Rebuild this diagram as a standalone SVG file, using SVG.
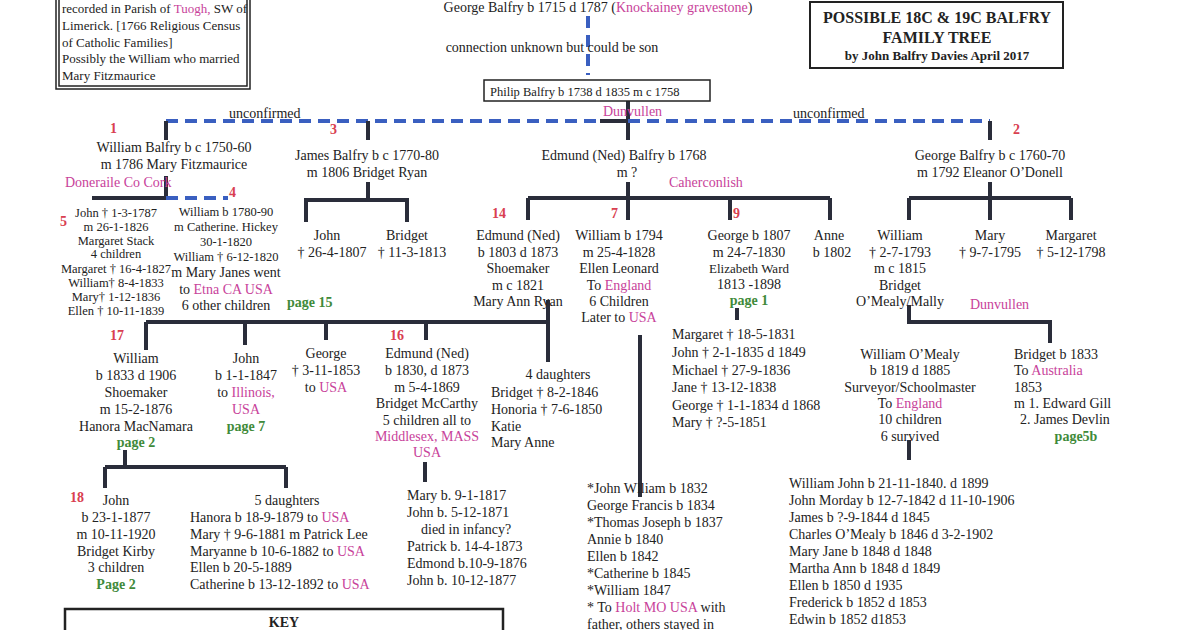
<svg xmlns="http://www.w3.org/2000/svg" width="1200" height="630" viewBox="0 0 1200 630">
<style>
text{font-family:"Liberation Serif","Times New Roman",serif;font-size:14px;fill:#222}
.c{text-anchor:middle}
.s{font-size:12.5px}
.p{fill:#c8429a}
.g{fill:#3f8a3a;font-weight:bold}
.r{fill:#d94050;font-weight:bold;font-size:14px}
.b{fill:none;stroke:#2a2d3a;stroke-width:4}
.d{fill:none;stroke:#3a5fc0;stroke-width:4;stroke-dasharray:12,7}
.bx{fill:none;stroke:#222;stroke-width:1.5}
</style>
<rect width="1200" height="630" fill="#fff"/>
<g id="censusnote">
<rect class="bx" x="56" y="-10" width="194" height="99"/><rect class="bx" x="59" y="-10" width="188" height="96"/>
<text x="62" y="13" style="font-size:13px">recorded in Parish of <tspan class="p">Tuogh,</tspan> SW of</text>
<text x="62" y="30" style="font-size:13px">Limerick. [1766 Religious Census</text>
<text x="62" y="47" style="font-size:13px">of Catholic Families]</text>
<text x="62" y="63" style="font-size:13px">Possibly the William who married</text>
<text x="62" y="80" style="font-size:13px">Mary Fitzmaurice</text>
</g>
<g id="title">
<rect x="810" y="2" width="253" height="66" fill="none" stroke="#222" stroke-width="2"/>
<text class="c" x="937" y="23" style="font-weight:bold;font-size:16px">POSSIBLE 18C &amp; 19C BALFRY</text>
<text class="c" x="937" y="43" style="font-weight:bold;font-size:16px">FAMILY TREE</text>
<text class="c" x="937" y="60" style="font-weight:bold;font-size:13px">by John Balfry Davies April 2017</text>
</g>
<g id="connectors">
<path class="d" d="M588 16V75"/>
<path class="b" d="M628 101V140M600 121H628"/>
<path class="d" d="M166 121H600M628 121H990"/>
<path class="b" d="M166 121V140M368 121V140M990 121V140"/>
<path class="b" d="M166 176V198H92"/>
<path class="d" d="M166 198H228"/>
<path class="b" d="M368 182V200H306V222M368 200H407V222"/>
<path class="b" d="M628 182V220M528 198H830M528 198V220M730 198V220M830 198V220"/>
<path class="b" d="M990 182V220M909 198H1071M909 198V220M1071 198V220"/>
<path class="b" d="M909 305V322H1050V343M909 440V460"/>
<path class="b" d="M737 308V320M640 335V497"/>
<path class="b" d="M548 300V362M146 322H548M146 322V350M245 322V345M326 322V340M426 322V340"/>
<path class="b" d="M425 462V482"/>
<path class="b" d="M125 450V467M105 467H286M105 467V488M286 467V488"/>
</g>
<g id="n-george1715"><text class="c" x="598" y="12">George Balfry b 1715 d 1787 (<tspan class="p">Knockainey gravestone</tspan>)</text>
<text class="c" x="552" y="52">connection unknown but could be son</text></g>
<g id="n-philip"><rect class="bx" x="484" y="80" width="226" height="21"/>
<text x="490" y="96" style="font-size:12.5px">Philip Balfry b 1738 d 1835 m c 1758</text>
<text class="p" x="603" y="116">Dunvullen</text></g>
<text x="229" y="118">unconfirmed</text><text x="793" y="118">unconfirmed</text>
<g id="n-william1"><text class="r" x="110" y="133">1</text>
<text class="c" x="174" y="152">William Balfry b c 1750-60</text>
<text class="c" x="174" y="169">m 1786 Mary Fitzmaurice</text>
<text class="p" x="65" y="187">Doneraile Co Cork</text></g>
<g id="n-james"><text class="r" x="330" y="134">3</text>
<text class="c" x="367" y="160">James Balfry b c 1770-80</text>
<text class="c" x="367" y="177">m 1806 Bridget Ryan</text></g>
<g id="n-edmund1768"><text class="c" x="624" y="160">Edmund (Ned) Balfry b 1768</text>
<text class="c" x="627" y="177">m ?</text><text class="p" x="669" y="187">Caherconlish</text></g>
<g id="n-george2"><text class="r" x="1013" y="134">2</text>
<text class="c" x="990" y="160">George Balfry b c 1760-70</text>
<text class="c" x="990" y="177">m 1792 Eleanor O’Donell</text></g>
<g id="n-5"><text class="r" x="60" y="226">5</text>
<text class="c s" x="116" y="217">John † 1-3-1787</text><text class="c s" x="116" y="231">m 26-1-1826</text><text class="c s" x="116" y="245">Margaret Stack</text><text class="c s" x="116" y="258">4 children</text><text class="c s" x="116" y="273">Margaret † 16-4-1827</text><text class="c s" x="116" y="287">William† 8-4-1833</text><text class="c s" x="116" y="301">Mary† 1-12-1836</text><text class="c s" x="116" y="315">Ellen † 10-11-1839</text></g>
<g id="n-4"><text class="r" x="229" y="197">4</text>
<text class="c s" x="226" y="216">William b 1780-90</text><text class="c s" x="226" y="231">m Catherine. Hickey</text><text class="c s" x="226" y="246">30-1-1820</text><text class="c s" x="226" y="261">William † 6-12-1820</text>
<text class="c" x="226" y="277">m Mary Janes went</text><text class="c" x="226" y="294">to <tspan class="p">Etna CA USA</tspan></text><text class="c" x="226" y="310">6 other children</text>
<text class="g" x="287" y="307">page 15</text></g>
<g id="n-john1807"><text class="c" x="327" y="240">John</text><text class="c" x="332" y="257">† 26-4-1807</text></g>
<g id="n-bridget1813"><text class="c" x="407" y="240">Bridget</text><text class="c" x="412" y="257">† 11-3-1813</text></g>
<g id="n-14"><text class="r" x="492" y="218">14</text>
<text class="c" x="518" y="240">Edmund (Ned)</text><text class="c" x="518" y="257">b 1803 d 1873</text><text class="c" x="518" y="273">Shoemaker</text><text class="c" x="518" y="290">m c 1821</text><text class="c" x="518" y="306">Mary Ann Ryan</text></g>
<g id="n-7"><text class="r" x="611" y="218">7</text>
<text class="c" x="619" y="240">William b 1794</text><text class="c" x="619" y="257">m 25-4-1828</text><text class="c" x="619" y="273">Ellen Leonard</text><text class="c" x="619" y="290">To <tspan class="p">England</tspan></text><text class="c" x="619" y="306">6 Children</text><text class="c" x="619" y="322">Later to <tspan class="p">USA</tspan></text></g>
<g id="n-9"><text class="r" x="733" y="218">9</text>
<text class="c" x="749" y="240">George b 1807</text><text class="c" x="749" y="257">m 24-7-1830</text><text class="c" x="749" y="273" style="font-size:13px">Elizabeth Ward</text><text class="c" x="749" y="289">1813 -1898</text><text class="c g" x="749" y="305">page 1</text></g>
<g id="n-anne"><text class="c" x="829" y="240">Anne</text><text class="c" x="832" y="257">b 1802</text></g>
<g id="n-william1793"><text class="c" x="900" y="240">William</text><text class="c" x="900" y="257">† 2-7-1793</text><text class="c" x="900" y="273">m c 1815</text><text class="c" x="900" y="290">Bridget</text><text class="c" x="900" y="306">O’Mealy/Mally</text>
<text class="p" x="970" y="309">Dunvullen</text></g>
<g id="n-mary1795"><text class="c" x="990" y="240">Mary</text><text class="c" x="990" y="257">† 9-7-1795</text></g>
<g id="n-margaret1798"><text class="c" x="1071" y="240">Margaret</text><text class="c" x="1071" y="257">† 5-12-1798</text></g>
<g id="n-17"><text class="r" x="110" y="340">17</text>
<text class="c" x="136" y="363">William</text><text class="c" x="136" y="380">b 1833 d 1906</text><text class="c" x="136" y="397">Shoemaker</text><text class="c" x="136" y="414">m 15-2-1876</text><text class="c" x="136" y="431">Hanora MacNamara</text><text class="c g" x="136" y="447">page 2</text></g>
<g id="n-john1847"><text class="c" x="246" y="363">John</text><text class="c" x="246" y="380">b 1-1-1847</text><text class="c" x="246" y="397">to <tspan class="p">Illinois,</tspan></text><text class="c p" x="246" y="414">USA</text><text class="c g" x="246" y="431">page 7</text></g>
<g id="n-george1853"><text class="c" x="326" y="358">George</text><text class="c" x="326" y="375">† 3-11-1853</text><text class="c" x="326" y="392">to <tspan class="p">USA</tspan></text></g>
<g id="n-16"><text class="r" x="390" y="340">16</text>
<text class="c" x="427" y="358">Edmund (Ned)</text><text class="c" x="427" y="375">b 1830, d 1873</text><text class="c" x="427" y="392">m 5-4-1869</text><text class="c" x="427" y="408">Bridget McCarthy</text><text class="c" x="427" y="425">5 children all to</text><text class="c p" x="427" y="441">Middlesex, MASS</text><text class="c p" x="427" y="457">USA</text></g>
<g id="n-4daughters"><text class="c" x="558" y="379">4 daughters</text><text x="491" y="397">Bridget † 8-2-1846</text><text x="491" y="414">Honoria † 7-6-1850</text><text x="491" y="431">Katie</text><text x="491" y="447">Mary Anne</text></g>
<g id="n-margaretlist"><text x="672" y="339">Margaret † 18-5-1831</text><text x="672" y="357">John † 2-1-1835 d 1849</text><text x="672" y="375">Michael † 27-9-1836</text><text x="672" y="392">Jane † 13-12-1838</text><text x="672" y="410">George † 1-1-1834 d 1868</text><text x="672" y="427">Mary † ?-5-1851</text></g>
<g id="n-omealy"><text class="c" x="910" y="359">William O’Mealy</text><text class="c" x="910" y="375">b 1819  d 1885</text><text class="c" x="910" y="392">Surveyor/Schoolmaster</text><text class="c" x="910" y="408">To <tspan class="p">England</tspan></text><text class="c" x="910" y="424">10 children</text><text class="c" x="910" y="441">6 survived</text></g>
<g id="n-bridget1833"><text x="1014" y="359">Bridget b 1833</text><text x="1014" y="375">To <tspan class="p">Australia</tspan></text><text x="1014" y="392">1853</text><text x="1014" y="408">m 1. Edward Gill</text><text x="1020" y="424">2. James Devlin</text><text class="c g" x="1076" y="441">page5b</text></g>
<g id="n-marylist"><text x="407" y="500">Mary b. 9-1-1817</text><text x="407" y="517">John b. 5-12-1871</text><text x="421" y="534">died in infancy?</text><text x="407" y="551">Patrick b. 14-4-1873</text><text x="407" y="568">Edmond b.10-9-1876</text><text x="407" y="585">John b. 10-12-1877</text></g>
<g id="n-johnwilliam"><text x="587" y="493">*John Wlliam b 1832</text><text x="587" y="510">George Francis b 1834</text><text x="587" y="527">*Thomas Joseph b 1837</text><text x="587" y="544">Annie b 1840</text><text x="587" y="561">Ellen b 1842</text><text x="587" y="578">*Catherine b 1845</text><text x="587" y="595">*William 1847</text><text x="587" y="612">* To <tspan class="p">Holt MO USA</tspan> with</text><text x="587" y="629">father, others stayed in</text></g>
<g id="n-omealykids"><text x="789" y="488">William John b 21-11-1840. d 1899</text><text x="789" y="505">John Morday b 12-7-1842 d 11-10-1906</text><text x="789" y="522">James b ?-9-1844 d 1845</text><text x="789" y="539">Charles O’Mealy b 1846 d 3-2-1902</text><text x="789" y="556">Mary Jane b 1848 d 1848</text><text x="789" y="573">Martha Ann b 1848 d 1849</text><text x="789" y="590">Ellen b 1850 d 1935</text><text x="789" y="607">Frederick b 1852 d 1853</text><text x="789" y="624">Edwin b 1852 d1853</text><text x="789" y="641">Alfred b 16-6-1845 d 10-8-1932</text></g>
<g id="n-18"><text class="r" x="70" y="502">18</text>
<text class="c" x="116" y="505">John</text><text class="c" x="116" y="522">b 23-1-1877</text><text class="c" x="116" y="539">m 10-11-1920</text><text class="c" x="116" y="556">Bridget Kirby</text><text class="c" x="116" y="572">3 children</text><text class="c g" x="116" y="589">Page 2</text></g>
<g id="n-5daughters"><text class="c" x="287" y="505">5 daughters</text><text x="190" y="522">Hanora b 18-9-1879 to <tspan class="p">USA</tspan></text><text x="190" y="539">Mary † 9-6-1881 m Patrick Lee</text><text x="190" y="556">Maryanne b 10-6-1882 to <tspan class="p">USA</tspan></text><text x="190" y="572">Ellen b 20-5-1889</text><text x="190" y="589">Catherine b 13-12-1892 to <tspan class="p">USA</tspan></text></g>
<g id="key"><rect x="65" y="609" width="438" height="30" fill="none" stroke="#222" stroke-width="2.5"/><text class="c" x="284" y="627" style="font-weight:bold">KEY</text></g>
</svg>
